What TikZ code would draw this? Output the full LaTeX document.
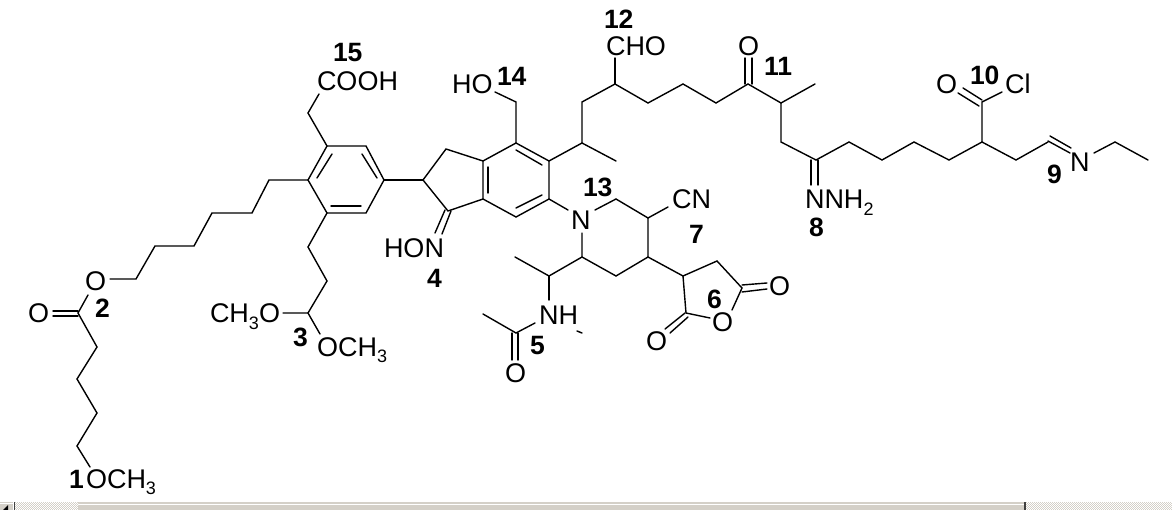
\documentclass[tikz,border=0pt]{standalone}
\usepackage{fontspec}
\setmainfont{Liberation Sans}
\newcommand{\chemsub}[1]{\raisebox{-6.5pt}{\fontsize{18}{18}\selectfont #1}}
\definecolor{barface}{HTML}{D4D0C8}
\definecolor{bardark}{HTML}{404040}
\tikzset{
  bond/.style={draw=black,line width=1.4pt,line join=miter,line cap=round},
  atomlbl/.style={anchor=base west,inner sep=0pt,outer sep=0pt,font=\fontsize{27}{27}\selectfont,text=black},
  numlbl/.style={anchor=base west,inner sep=0pt,outer sep=0pt,font=\fontsize{26.5}{27}\selectfont\bfseries,text=black},
}
\begin{document}
\begin{tikzpicture}[x=1pt,y=-1pt]
\useasboundingbox (0,0) rectangle (1172,510);
% ---- atom positions
\foreach \n/\x/\y in {
 e1/90/467,e2/77/446,e3/97/413,e4/77/379,e5/97/347,e6/78/313,e7/88/295,
 e8/110/279,e9/136/279,e10/155/246,e11/194/246,e12/212/213,e13/252/213,e14/269/180,
 r1/308/180,r2/327/146,r3/366/146,r4/384/180,r5/366/213,r6/327/213,
 c1/308/113,c2/319/94,
 m2/308/247,m3/327/281,m4/308/313,m5/283/313,m6/320/334,
 p1/423/180,p2/446/149,p3/483/161,p4/483/199,p5/448/211,
 s1/516/143,s2/549/161,s3/549/199,s4/516/217,
 h1/516/102,h2/495/92,
 t1/582/143,t2/616/161,t3/582/102,t4/615/84,t5/615/58,
 t6/648/103,t7/683/84,t8/716/103,t9/748/84,t10/781/103,t11/815/84,
 t12/781/142,t13/816/160,t14/849/142,t15/882/160,t16/914/142,t17/949/160,
 t18/982/142,t19/1016/160,t20/1048/142,t21/982/102,t22/1002/92,
 t23/1094/153,t24/1115/142,t25/1148/160,
 n1/568/210,n2/595/210,n3/616/199,n4/648/218,n5/668/207,n6/648/257,n7/616/276,n8/582/257,n9/582/233,
 a1/549/276,a2/515/257,a3/549/300,a4/535/323,a5/516/333,a6/483/314,a7/577/331,a8/582/333,
 l1/683/276,l2/717/261,l3/742/288,l4/732/310,l5/686/313,l6/710/318%
}{\coordinate (\n) at (\x,\y);}
% ---- single bonds
\path[bond] (e1)--(e2)--(e3)--(e4)--(e5)--(e6)--(e7);
\path[bond] (e8)--(e9)--(e10)--(e11)--(e12)--(e13)--(e14)--(r1);
\path[bond] (r1)--(r2)--(r3)--(r4)--(r5)--(r6)--cycle;
\path[bond] (r2)--(c1)--(c2);
\path[bond] (r6)--(m2)--(m3)--(m4)--(m5);
\path[bond] (m4)--(m6);
\path[bond] (r4)--(p1);
\path[bond] (p1)--(p2)--(p3)--(p4)--(p5)--cycle;
\path[bond] (p3)--(s1)--(s2)--(s3)--(s4)--(p4);
\path[bond] (s1)--(h1)--(h2);
\path[bond] (s2)--(t1)--(t2);
\path[bond] (t1)--(t3)--(t4)--(t6)--(t7)--(t8)--(t9)--(t10)--(t11);
\path[bond] (t4)--(t5);
\path[bond] (t10)--(t12)--(t13)--(t14)--(t15)--(t16)--(t17)--(t18)--(t19)--(t20);
\path[bond] (t18)--(t21)--(t22);
\path[bond] (t23)--(t24)--(t25);
\path[bond] (s3)--(n1);
\path[bond] (n2)--(n3)--(n4)--(n5);
\path[bond] (n4)--(n6)--(n7)--(n8)--(n9);
\path[bond] (n8)--(a1)--(a2);
\path[bond] (a1)--(a3);
\path[bond] (a4)--(a5)--(a6);
\path[bond] (a7)--(a8);
\path[bond] (n6)--(l1)--(l2)--(l3)--(l4);
\path[bond] (l1)--(l5)--(l6);
% ---- second lines of double bonds and C=X lines
\foreach \n/\ax/\ay/\bx/\by in {
 dA/332/154/317/178, dB/362/154/377/178, dC/331/206/361/206,
 dD/488/167/488/193, dE/516/150/542/165, dF/516/208/542/195,
 dG/53/311/78/311, dH/53/316/78/316,
 dI/445/210/435/233, dJ/451/211/442/234,
 dK/745/84/745/58, dL/752/84/752/58,
 dM/811/160/811/185, dN/818/160/818/185,
 dO/963/88/982/100, dP/958/93/979/106,
 dQ/1048/141/1070/153, dR/1050/136/1071/148,
 dS/512/333/512/360, dT/518/333/518/360,
 dU/742/285/767/283, dV/742/292/767/289,
 dW/685/313/665/329, dX/688/317/670/333%
}{
 \coordinate (\n a) at (\ax,\ay);
 \coordinate (\n b) at (\bx,\by);
 \path[bond] (\n a)--(\n b);
}
% ---- atom labels
\node[atomlbl] (oa) at (86,488) {OCH\chemsub{3}};
\node[atomlbl] (ob) at (85,291) {O};
\node[atomlbl] (oc) at (28,323) {O};
\node[atomlbl] (od) at (210,323) {CH\chemsub{3}O};
\node[atomlbl] (oe) at (317,356) {OCH\chemsub{3}};
\node[atomlbl] (of) at (317,91) {COOH};
\node[atomlbl] (og) at (452,94) {HO};
\node[atomlbl] (oh) at (384,258) {HON};
\node[atomlbl] (oi) at (571,230) {N};
\node[atomlbl] (oj) at (672,209) {CN};
\node[atomlbl] (ok) at (539,325) {NH};
\node[atomlbl] (ol) at (505,382) {O};
\node[atomlbl] (om) at (712,332) {O};
\node[atomlbl] (on) at (646,350) {O};
\node[atomlbl] (oo) at (769,296) {O};
\node[atomlbl] (op) at (606,56) {CHO};
\node[atomlbl] (oq) at (738,56) {O};
\node[atomlbl] (or) at (805,209) {NNH\chemsub{2}};
\node[atomlbl] (os) at (936,94) {O};
\node[atomlbl] (ot) at (1005,94) {Cl};
\node[atomlbl] (ou) at (1070,172) {N};
% ---- number labels
\node[numlbl] (k1) at (69,488) {1};
\node[numlbl] (k2) at (95,318) {2};
\node[numlbl] (k3) at (293,347) {3};
\node[numlbl] (k4) at (427,288) {4};
\node[numlbl] (k5) at (530,355) {5};
\node[numlbl] (k6) at (707,309) {6};
\node[numlbl] (k7) at (689,244) {7};
\node[numlbl] (k8) at (809,237) {8};
\node[numlbl] (k9) at (1047,184) {9};
\node[numlbl] (k10) at (970,85) {10};
\node[numlbl] (k11) at (764,76) {11};
\node[numlbl] (k12) at (604,29) {12};
\node[numlbl] (k13) at (583,197) {13};
\node[numlbl] (k14) at (497,86) {14};
\node[numlbl] (k15) at (333,62) {15};
% ---- scrollbar at the foot of the window
\foreach \r/\ph in {502.5/0,503.5/1,504.5/0,505.5/1,506.5/0,507.5/1,508.5/0,509.5/1}{
  \path[draw=barface,line width=1pt,dash pattern=on 1pt off 1pt,dash phase=\ph pt] (15,\r) -- (78,\r);
  \path[draw=barface,line width=1pt,dash pattern=on 1pt off 1pt,dash phase=\ph pt] (1026,\r) -- (1172,\r);
}
\fill[barface] (78,502) rectangle (1024,510);
\fill[barface] (0,502) rectangle (13,510);
\fill[white] (0,503) rectangle (13,504);
\fill[white] (78,503.5) rectangle (1024,504.5);
\fill[bardark] (13.5,502) rectangle (15,510);
\fill[bardark] (1024,502) rectangle (1026,510);
\fill[black] (3,510) -- (8,505) -- (8,510) -- cycle;
\end{tikzpicture}
\end{document}
